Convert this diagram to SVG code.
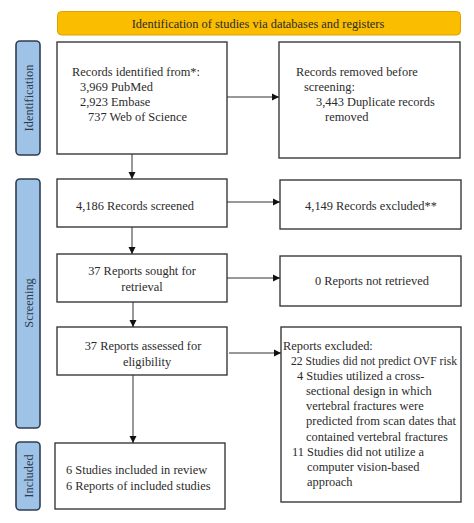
<svg xmlns="http://www.w3.org/2000/svg" width="474" height="523" viewBox="0 0 474 523">
<style>
text{font-family:"Liberation Serif","Times New Roman",serif;font-size:12.4px;fill:#2b2b2b}
.box{fill:#fff;stroke:#3a3a3a;stroke-width:1.4}
.tab{fill:#9fc3e7;stroke:#2f3d52;stroke-width:1.6}
.tabt{fill:#2c3a4c;text-anchor:middle}
.mid{text-anchor:middle}
.conn{stroke:#333;stroke-width:1;fill:none;marker-end:url(#ah)}
</style>
<defs>
<marker id="ah" markerWidth="8" markerHeight="8" refX="7" refY="4" orient="auto" markerUnits="userSpaceOnUse">
<path d="M0,0.5 L7,4 L0,7.5 Z" fill="#111"/>
</marker>
</defs>
<rect width="474" height="523" fill="#fff"/>
<g id="banner">
<rect x="57.5" y="11.5" width="403" height="23.5" rx="4" fill="#fbbd00" stroke="#dca200" stroke-width="1"/>
<text x="258" y="27.5" class="mid" fill="#3a2a05">Identification of studies via databases and registers</text>
</g>
<g id="tab-identification">
<rect class="tab" x="16" y="41" width="24" height="114" rx="4"/>
<text class="tabt" transform="translate(32.5,98) rotate(-90)">Identification</text>
</g>
<g id="tab-screening">
<rect class="tab" x="16" y="179" width="24" height="249" rx="4"/>
<text class="tabt" transform="translate(32.5,303) rotate(-90)">Screening</text>
</g>
<g id="tab-included">
<rect class="tab" x="16" y="442" width="24" height="68" rx="4"/>
<text class="tabt" transform="translate(32.5,476) rotate(-90)">Included</text>
</g>
<g id="records-identified">
<rect class="box" x="57" y="42" width="170" height="112"/>
<text x="72" y="76">Records identified from*:</text>
<text x="80" y="91">3,969 PubMed</text>
<text x="80" y="105.5">2,923 Embase</text>
<text x="88" y="121">737 Web of Science</text>
</g>
<g id="records-removed">
<rect class="box" x="279" y="42" width="181" height="116"/>
<text x="296" y="76">Records removed before</text>
<text x="304" y="91">screening:</text>
<text x="316" y="105.5">3,443 Duplicate records</text>
<text x="325" y="121">removed</text>
</g>
<g id="records-screened">
<rect class="box" x="57" y="179" width="170" height="48"/>
<text x="135" y="210" class="mid">4,186 Records screened</text>
</g>
<g id="records-excluded">
<rect class="box" x="280" y="180" width="181" height="49"/>
<text x="371" y="210" class="mid">4,149 Records excluded**</text>
</g>
<g id="reports-sought">
<rect class="box" x="57" y="254" width="170" height="48"/>
<text x="142" y="275" class="mid">37 Reports sought for</text>
<text x="142" y="291" class="mid">retrieval</text>
</g>
<g id="reports-not-retrieved">
<rect class="box" x="280" y="256" width="181" height="50"/>
<text x="372" y="285" class="mid">0 Reports not retrieved</text>
</g>
<g id="reports-assessed">
<rect class="box" x="57" y="327" width="170" height="48"/>
<text x="143" y="350" class="mid">37 Reports assessed for</text>
<text x="147" y="366" class="mid">eligibility</text>
</g>
<g id="reports-excluded">
<rect class="box" x="281" y="327" width="180" height="175"/>
<text x="283" y="350">Reports excluded:</text>
<text x="291" y="365" textLength="166" lengthAdjust="spacingAndGlyphs">22 Studies did not predict OVF risk</text>
<text x="297" y="380">4 Studies utilized a cross-</text>
<text x="306" y="395">sectional design in which</text>
<text x="306" y="410">vertebral fractures were</text>
<text x="306" y="425" textLength="150" lengthAdjust="spacingAndGlyphs">predicted from scan dates that</text>
<text x="306" y="441">contained vertebral fractures</text>
<text x="292" y="456">11 Studies did not utilize a</text>
<text x="307" y="471">computer vision-based</text>
<text x="307" y="486">approach</text>
</g>
<g id="studies-included">
<rect class="box" x="55" y="443" width="170" height="66"/>
<text x="66" y="474">6 Studies included in review</text>
<text x="66" y="490">6 Reports of included studies</text>
</g>
<g id="connectors">
<line class="conn" x1="227" y1="97" x2="279" y2="97"/>
<line class="conn" x1="132" y1="154" x2="132" y2="179"/>
<line class="conn" x1="227" y1="202" x2="280" y2="202"/>
<line class="conn" x1="132" y1="227" x2="132" y2="254"/>
<line class="conn" x1="227" y1="278" x2="280" y2="278"/>
<line class="conn" x1="133" y1="302" x2="133" y2="327"/>
<line class="conn" x1="229" y1="353" x2="281" y2="353"/>
<line class="conn" x1="133" y1="375" x2="133" y2="443"/>
</g>
</svg>
